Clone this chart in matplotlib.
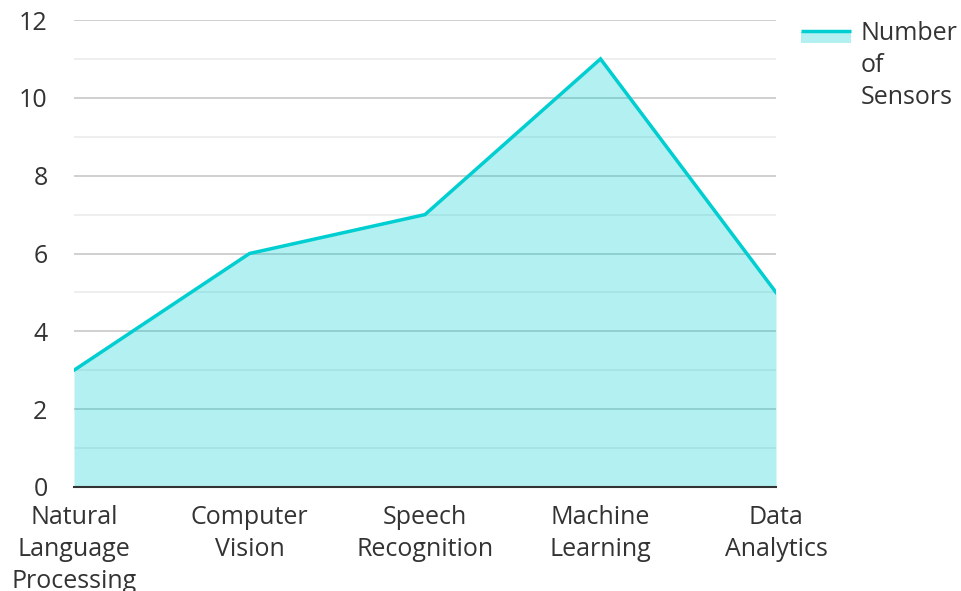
import matplotlib.pyplot as plt
from matplotlib.patches import Rectangle
from matplotlib.lines import Line2D

categories = ["Natural\nLanguage\nProcessing", "Computer\nVision", "Speech\nRecognition",
              "Machine\nLearning", "Data\nAnalytics"]
sensors = [3, 6, 7, 11, 5]
series_name = "Number\nof\nSensors"

line_color = "#00CED1"
fill_color = "#b2f0f1"
text_color = "#333333"
fs = 18

plt.rcParams["font.family"] = ["Open Sans", "DejaVu Sans"]
W, H = 962, 591
fig = plt.figure(figsize=(W / 100, H / 100), dpi=100)
ax = fig.add_axes([74 / W, 1 - 487 / H, (776 - 74) / W, (487 - 20) / H])

x = list(range(len(categories)))
ax.fill_between(x, sensors, 0, color=line_color, alpha=0.3, lw=0, zorder=3)
ax.plot(x, sensors, color=line_color, lw=2.5, zorder=4, solid_joinstyle="miter")

ax.set_xlim(0, len(categories) - 1)
ax.set_ylim(0, 12)
ax.set_yticks(range(0, 13, 2))
ax.set_yticks(range(1, 13, 2), minor=True)
ax.grid(axis="y", which="major", color="#c8c8c8", lw=1.2, zorder=1)
ax.grid(axis="y", which="minor", color="#ebebeb", lw=1.2, zorder=1)
ax.set_xticks(x)
ax.set_xticklabels(categories, fontsize=fs, color=text_color, linespacing=1.36)
ax.tick_params(axis="y", labelsize=fs, labelcolor=text_color, length=0, pad=19, which="both")
ax.tick_params(axis="x", length=0, pad=13)
for s in ["left", "right", "top"]:
    ax.spines[s].set_visible(False)
ax.spines["bottom"].set_color(text_color)
ax.spines["bottom"].set_linewidth(1.5)
ax.spines["bottom"].set_zorder(5)

# legend drawn in figure pixels
fig.add_artist(Rectangle((801 / W, 1 - 43 / H), 50 / W, 11 / H, transform=fig.transFigure,
                         facecolor=fill_color, edgecolor="none"))
fig.add_artist(Line2D([801 / W, 851 / W], [1 - 31 / H, 1 - 31 / H], transform=fig.transFigure,
                      color=line_color, lw=2.5, solid_capstyle="butt"))
fig.text(861 / W, 1 - 21 / H, series_name, fontsize=fs, color=text_color,
         ha="left", va="top", linespacing=1.36)

fig.savefig("out.png", dpi=100, facecolor="white")
